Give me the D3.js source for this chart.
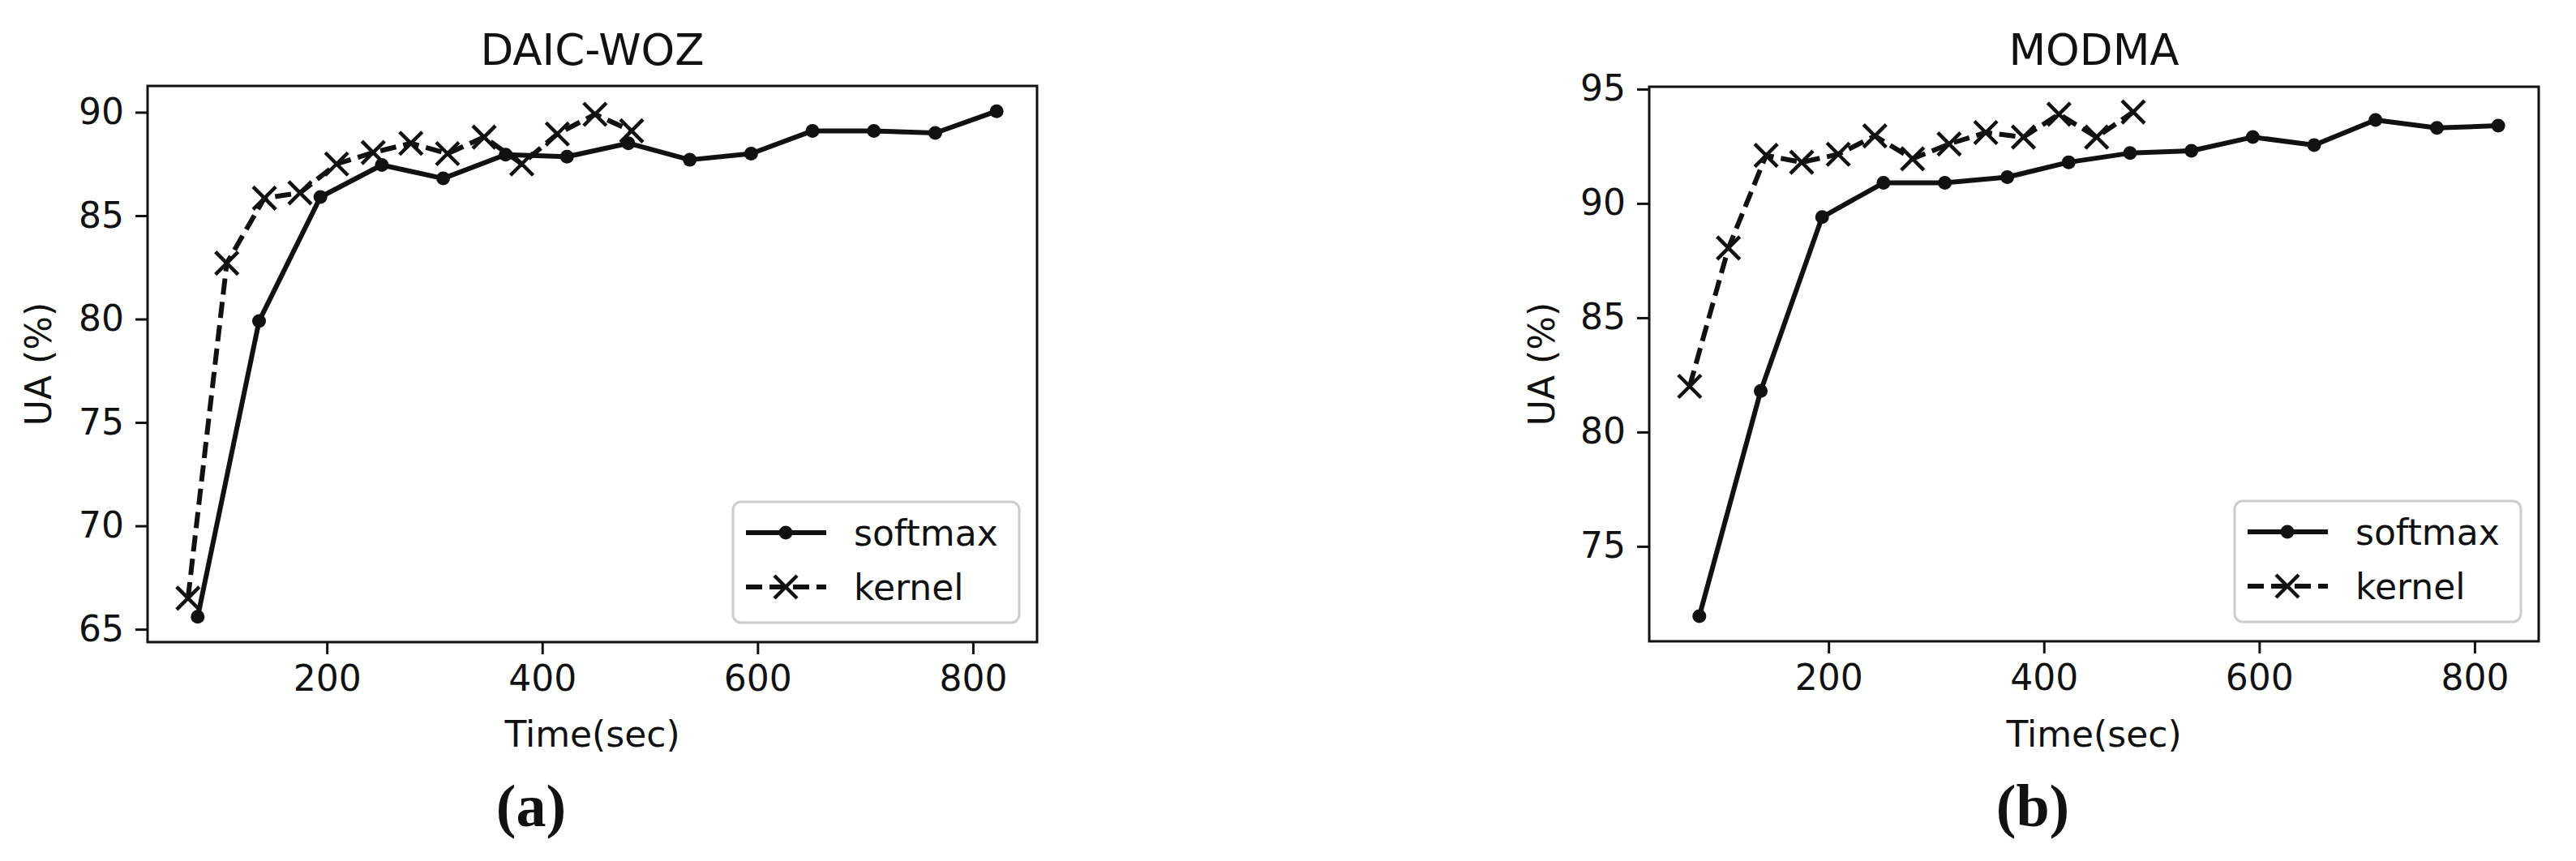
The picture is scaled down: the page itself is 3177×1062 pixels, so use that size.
<!DOCTYPE html>
<html>
<head>
<meta charset="utf-8">
<script src="https://cdn.jsdelivr.net/npm/d3@7/dist/d3.min.js"></script>
<style>
  body { margin: 0; background: #fff; }
  svg { display: block; }
  text { font-family: "DejaVu Sans", sans-serif; fill: #111; }
  .tick text { font-size: 44px; }
  .panel-tag { font-family: "Liberation Serif", serif; font-weight: bold; font-size: 74px; }
</style>
</head>
<body>
<div id="chartDiv"></div>
<script>
// x values (sec) for each run
var softmaxTime = [80, 137, 194, 251, 308, 366, 423, 480, 537, 594, 651, 708, 765, 822];
var kernelTime = [71, 107, 142, 175, 209, 243, 278, 312, 346, 381, 414, 449, 483];

// DAIC-WOZ UA (%)
var daicSoftmax = [65.6, 79.9, 85.9, 87.45, 86.8, 87.95, 87.85, 88.5, 87.7, 88.0, 89.1, 89.1, 89.0, 90.05];
var daicKernel = [66.5, 82.7, 85.85, 86.1, 87.5, 88.05, 88.5, 88.0, 88.8, 87.5, 88.95, 89.9, 89.1];

// MODMA UA (%)
var modmaSoftmax = [71.95, 81.8, 89.4, 90.9, 90.9, 91.15, 91.8, 92.2, 92.3, 92.9, 92.55, 93.65, 93.3, 93.4];
var modmaKernel = [82.0, 88.05, 92.1, 91.8, 92.15, 92.95, 91.95, 92.6, 93.1, 92.9, 93.9, 92.9, 94.0];

var daicTicks = [65, 70, 75, 80, 85, 90];
var modmaTicks = [75, 80, 85, 90, 95];
var timeTicks = [200, 400, 600, 800];
var seriesNames = ['softmax', 'kernel'];

var W = 3177, H = 1062;
var ink = '#111';
var lineW = 6, dotR = 8.5;

var svg = d3.select('#chartDiv').append('svg')
  .attr('width', W)
  .attr('height', H);

// pad a domain by 5% on each side, like matplotlib's autoscale
function padded(values) {
  var ext = d3.extent(values);
  var m = (ext[1] - ext[0]) * 0.05;
  return [ext[0] - m, ext[1] + m];
}

function drawPanel(opt) {
  var box = opt.box;  // left, top, right, bottom
  var x = d3.scaleLinear()
    .domain(padded(softmaxTime.concat(kernelTime)))
    .range([box[0], box[2]]);
  var y = d3.scaleLinear()
    .domain(padded(opt.softmax.concat(opt.kernel)))
    .range([box[3], box[1]]);

  var g = svg.append('g');

  // frame
  g.append('rect')
    .attr('x', box[0]).attr('y', box[1])
    .attr('width', box[2] - box[0]).attr('height', box[3] - box[1])
    .attr('fill', 'none').attr('stroke', ink).attr('stroke-width', 3);

  // axes
  var xAxis = d3.axisBottom(x).tickValues(timeTicks).tickSize(15).tickPadding(14).tickFormat(d3.format('d'));
  g.append('g')
    .attr('transform', 'translate(0,' + box[3] + ')')
    .call(xAxis)
    .call(function(a) { a.select('.domain').remove(); });

  var yAxis = d3.axisLeft(y).tickValues(opt.ticks).tickSize(15).tickPadding(14).tickFormat(d3.format('d'));
  g.append('g')
    .attr('transform', 'translate(' + box[0] + ',0)')
    .call(yAxis)
    .call(function(a) { a.select('.domain').remove(); });

  g.selectAll('.tick line').attr('stroke', ink).attr('stroke-width', 3);
  g.selectAll('.tick text').attr('fill', ink);

  var cx = (box[0] + box[2]) / 2;
  var cy = (box[1] + box[3]) / 2;

  // title + labels
  g.append('text').attr('x', cx).attr('y', 80)
    .attr('text-anchor', 'middle').style('font-size', '53px').text(opt.title);
  g.append('text').attr('x', cx).attr('y', 921)
    .attr('text-anchor', 'middle').style('font-size', '44px').text('Time(sec)');
  g.append('text')
    .attr('transform', 'translate(' + opt.ylabelX + ',' + cy + ') rotate(-90)')
    .attr('text-anchor', 'middle').style('font-size', '44px').text('UA (%)');
  g.append('text').attr('class', 'panel-tag')
    .attr('x', opt.tagX).attr('y', 1019)
    .attr('text-anchor', 'middle').text(opt.tag);

  var line = d3.line()
    .x(function(d) { return x(d[0]); })
    .y(function(d) { return y(d[1]); });

  var sData = d3.zip(softmaxTime, opt.softmax);
  var kData = d3.zip(kernelTime, opt.kernel);

  // softmax: solid with dots
  g.append('path').datum(sData)
    .attr('d', line).attr('fill', 'none')
    .attr('stroke', ink).attr('stroke-width', lineW).attr('stroke-linejoin', 'round');
  g.selectAll('.dot').data(sData).enter().append('circle')
    .attr('cx', function(d) { return x(d[0]); })
    .attr('cy', function(d) { return y(d[1]); })
    .attr('r', dotR).attr('fill', ink);

  // kernel: dashed with crosses
  g.append('path').datum(kData)
    .attr('d', line).attr('fill', 'none')
    .attr('stroke', ink).attr('stroke-width', lineW)
    .attr('stroke-dasharray', '20,9');
  var cross = 'M-14,-14L14,14M-14,14L14,-14';
  g.selectAll('.cross').data(kData).enter().append('path')
    .attr('transform', function(d) { return 'translate(' + x(d[0]) + ',' + y(d[1]) + ')'; })
    .attr('d', cross).attr('stroke', ink).attr('stroke-width', 4.5);

  // legend, lower right
  var lw = 353, lh = 149;
  var lx = box[2] - 22 - lw, ly = box[3] - 24 - lh;
  var leg = g.append('g').attr('transform', 'translate(' + lx + ',' + ly + ')');
  leg.append('rect')
    .attr('width', lw).attr('height', lh).attr('rx', 10)
    .attr('fill', '#fff').attr('fill-opacity', 0.8)
    .attr('stroke', '#ccc').attr('stroke-width', 3);

  seriesNames.forEach(function(name, i) {
    var yy = 38 + i * 67;
    var row = leg.append('g').attr('transform', 'translate(0,' + yy + ')');
    row.append('line').attr('x1', 16).attr('x2', 115)
      .attr('stroke', ink).attr('stroke-width', lineW)
      .attr('stroke-dasharray', i === 1 ? '20,9' : null);
    if (i === 0) {
      row.append('circle').attr('cx', 65).attr('r', dotR).attr('fill', ink);
    } else {
      row.append('path').attr('transform', 'translate(65,0)')
        .attr('d', cross).attr('stroke', ink).attr('stroke-width', 4.5);
    }
    row.append('text').attr('x', 149).attr('y', 16)
      .style('font-size', '44px').text(name);
  });
}

drawPanel({
  box: [182, 106, 1279, 792],
  title: 'DAIC-WOZ',
  softmax: daicSoftmax,
  kernel: daicKernel,
  ticks: daicTicks,
  ylabelX: 63,
  tag: '(a)',
  tagX: 655
});

drawPanel({
  box: [2034, 107, 3131, 791],
  title: 'MODMA',
  softmax: modmaSoftmax,
  kernel: modmaKernel,
  ticks: modmaTicks,
  ylabelX: 1917,
  tag: '(b)',
  tagX: 2507
});
</script>
</body>
</html>
